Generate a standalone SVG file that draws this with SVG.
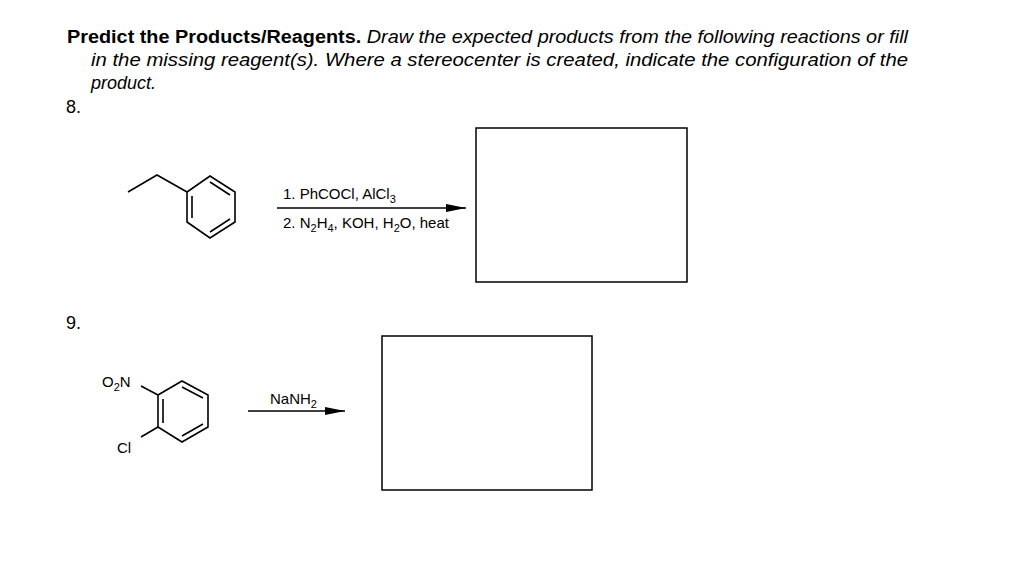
<svg xmlns="http://www.w3.org/2000/svg" width="1024" height="576" viewBox="0 0 1024 576">
<style>
text{font-family:"Liberation Sans",Arial,sans-serif;fill:#000}
.h{font-size:18px}
.s{font-size:15px}
.b{stroke:#000;stroke-width:1.6;fill:none}
.box{stroke:#000;stroke-width:1.5;fill:#fff}
</style>
<defs><marker id="a" markerWidth="20" markerHeight="8" refX="20" refY="4" orient="auto" markerUnits="userSpaceOnUse"><path d="M0,0 L20,4 L0,8 Z" fill="#000"/></marker></defs>
<rect width="1024" height="576" fill="#fff"/>
<g id="header">
<text class="h" x="67" y="43" textLength="841" lengthAdjust="spacingAndGlyphs"><tspan font-weight="bold">Predict the Products/Reagents.</tspan><tspan font-style="italic"> Draw the expected products from the following reactions or fill</tspan></text>
<text class="h" x="91" y="66" font-style="italic" textLength="817" lengthAdjust="spacingAndGlyphs">in the missing reagent(s). Where a stereocenter is created, indicate the configuration of the</text>
<text class="h" x="91" y="89" font-style="italic">product.</text>
<text class="h" x="66" y="113">8.</text>
<text class="h" x="66" y="329">9.</text>
</g>
<g id="mol1" class="b">
<path d="M128,192 L157,175 L187,192 M187,192 L210,176 L235,192 L235,222 L210,238 L187,222 Z"/>
<path d="M192,196 L192,218 M210,182 L230,195 M210,232 L230,219"/>
</g>
<g id="mol2">
<path class="b" d="M158,395 L182,381 L208,395 L208,427 L182,442 L158,427 Z M158,395 L141,386 M158,427 L141,437"/>
<path class="b" d="M163,399 L163,423 M182,387 L203,398 M182,436 L203,424"/>
<text class="s" x="102" y="387">O<tspan font-size="11" dy="4">2</tspan><tspan dy="-4">N</tspan></text>
<text class="s" x="117" y="453">Cl</text>
</g>
<g id="connectors">
<line x1="277" y1="208" x2="466" y2="208" stroke="#000" stroke-width="1.5" marker-end="url(#a)"/>
<line x1="248" y1="411" x2="345" y2="411" stroke="#000" stroke-width="1.5" marker-end="url(#a)"/>
</g>
<g id="labels">
<text class="s" x="283" y="199">1. PhCOCl, AlCl<tspan font-size="11" dy="4">3</tspan></text>
<text class="s" x="283" y="228">2. N<tspan font-size="11" dy="4">2</tspan><tspan dy="-4">H</tspan><tspan font-size="11" dy="4">4</tspan><tspan dy="-4">, KOH, H</tspan><tspan font-size="11" dy="4">2</tspan><tspan dy="-4">O, heat</tspan></text>
<text class="s" x="270" y="404">NaNH<tspan font-size="11" dy="4">2</tspan></text>
</g>
<g id="box1"><rect class="box" x="476" y="128" width="211" height="154"/></g>
<g id="box2"><rect class="box" x="382" y="336" width="210" height="154"/></g>
</svg>
